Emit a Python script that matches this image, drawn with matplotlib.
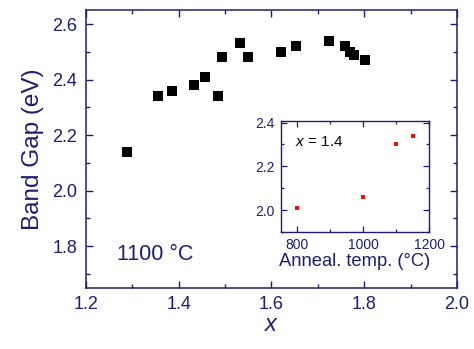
import matplotlib
matplotlib.use("Agg")
import matplotlib.pyplot as plt
from matplotlib.ticker import MultipleLocator

plt.rcParams['font.family'] = ['Liberation Sans', 'DejaVu Sans']
plt.rcParams['mathtext.fontset'] = 'custom'
plt.rcParams['mathtext.it'] = 'Liberation Sans:italic'
plt.rcParams['mathtext.rm'] = 'Liberation Sans'

# main panel: band gap vs composition x, annealed at 1100 C
x_comp = [1.289, 1.355, 1.385, 1.434, 1.457, 1.485, 1.493, 1.532, 1.549,
          1.620, 1.654, 1.725, 1.759, 1.769, 1.779, 1.801]
gap_comp = [2.14, 2.34, 2.36, 2.38, 2.41, 2.34, 2.48, 2.53, 2.48,
            2.50, 2.52, 2.54, 2.52, 2.50, 2.49, 2.47]

# inset: band gap vs annealing temperature for x = 1.4
anneal_temp = [800, 1000, 1100, 1150]
gap_temp = [2.01, 2.06, 2.30, 2.34]

navy = '#1e1e6e'

fig = plt.figure(figsize=(4.74, 3.49), dpi=100)
ax = fig.add_axes([0.181, 0.175, 0.783, 0.796])
ax.scatter(x_comp, gap_comp, marker='s', s=50, color='black', linewidths=0, zorder=3)
ax.set_xlim(1.2, 2.0)
ax.set_ylim(1.65, 2.65)
ax.xaxis.set_major_locator(MultipleLocator(0.2))
ax.xaxis.set_minor_locator(MultipleLocator(0.1))
ax.yaxis.set_major_locator(MultipleLocator(0.2))
ax.yaxis.set_minor_locator(MultipleLocator(0.1))
ax.xaxis.set_major_formatter(plt.FormatStrFormatter('%.1f'))
ax.yaxis.set_major_formatter(plt.FormatStrFormatter('%.1f'))
ax.tick_params(which='both', direction='in', top=True, right=True, color=navy,
               labelcolor=navy, labelsize=13, width=1.0)
ax.tick_params(which='major', length=5, pad=6)
ax.tick_params(which='minor', length=3)
for sp in ax.spines.values():
    sp.set_color(navy)
    sp.set_linewidth(1.1)
ax.set_ylabel('Band Gap (eV)', fontsize=17.5, color=navy, labelpad=6)
ax.set_xlabel('x', fontsize=17, color=navy, style='italic', labelpad=0)
ax.text(0.085, 0.1, '1100 °C', transform=ax.transAxes, fontsize=15.5, color=navy)

ins = fig.add_axes([0.592, 0.335, 0.3135, 0.317])
ins.scatter(anneal_temp, gap_temp, marker='s', s=10, color='#ee1111', linewidths=0, zorder=3)
ins.set_xlim(750, 1200)
ins.set_ylim(1.9, 2.405)
ins.xaxis.set_major_locator(MultipleLocator(200))
ins.xaxis.set_minor_locator(MultipleLocator(100))
ins.yaxis.set_major_locator(MultipleLocator(0.2))
ins.yaxis.set_minor_locator(MultipleLocator(0.1))
ins.yaxis.set_major_formatter(plt.FormatStrFormatter('%.1f'))
ins.tick_params(which='both', direction='in', top=True, right=True, color=navy,
                labelcolor=navy, labelsize=10, width=0.9)
ins.tick_params(which='major', length=4, pad=4)
ins.tick_params(which='minor', length=2.5)
for sp in ins.spines.values():
    sp.set_color(navy)
    sp.set_linewidth(1.0)
ins.set_xlabel('Anneal. temp. (°C)', fontsize=13.2, color=navy, labelpad=1)
ins.text(0.1, 0.78, '$x$ = 1.4', transform=ins.transAxes, fontsize=11, color='black')

fig.savefig('out.png', dpi=100)
